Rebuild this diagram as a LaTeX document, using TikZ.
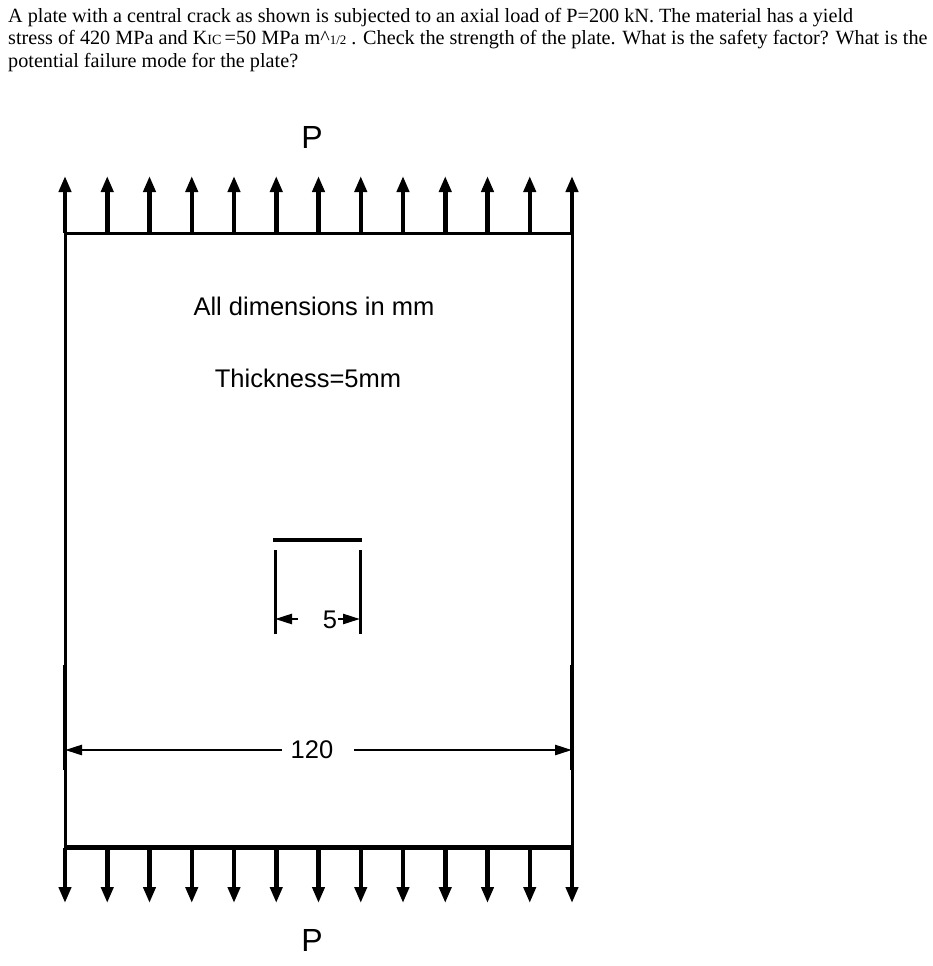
\documentclass[tikz,border=0pt]{standalone}
\usepackage{fontspec}
\setmainfont{Liberation Serif}
\newfontfamily\arial{Liberation Sans}
\usetikzlibrary{arrows.meta}
\begin{document}
\begin{tikzpicture}[x=1pt,y=-1pt,
  hdr/.style={anchor=base west,inner sep=0,font=\fontsize{20.2}{24}\selectfont},
  lbl/.style={inner sep=1pt,font=\arial\fontsize{25.5}{30}\selectfont},
  pl/.style={inner sep=0,font=\arial\fontsize{32}{36}\selectfont},
  load/.style={line width=4.5pt,-{Triangle[length=16pt,width=12pt]}},
  thk/.style={line width=3pt},
  dimarr/.style={line width=2.5pt,-{Triangle[length=17pt,width=10pt]}}]
\useasboundingbox (0,0) rectangle (932,966);
\node[hdr] (h1) at (8,23) {A plate with a central crack as shown is subjected to an axial load of P=200 kN. The material has a yield};
\node[hdr] (h2) at (8,45) {stress of 420 MPa and K{\fontsize{14}{16}\selectfont IC}\,=50 MPa m\^{}{\fontsize{13}{15}\selectfont 1/2} . Check the strength of the plate. What is the safety factor? What is the};
\node[hdr] (h3) at (8,67) {potential failure mode for the plate?};
\node[pl] (ptop) at (312,137) {P};
\node[pl] (pbot) at (312,940) {P};
\draw[thk] (65,233) rectangle (572,846);
\draw[thk] (65,848) -- (572,848);
\foreach \i in {0,...,12}{
  \pgfmathsetmacro\xx{65+\i*42.25}
  \draw[load] (\xx,233) -- (\xx,176);
  \draw[load] (\xx,848) -- (\xx,903);
}
\node[lbl] (dims) at (314,306) {All dimensions in mm};
\node[lbl] (thick) at (308,378) {Thickness=5mm};
\draw[line width=4.5pt] (273,540) -- (362,540);
\draw[thk] (275,550) -- (275,634);
\draw[thk] (360,550) -- (360,634);
\node[lbl] (five) at (330,620) {5};
\coordinate (fl) at (275,619); \coordinate (fr) at (360,619);
\draw[dimarr] (298,619) -- (fl);
\draw[dimarr] (338,619) -- (fr);
\draw[line width=3.5pt] (65,665) -- (65,770);
\draw[line width=3.5pt] (572,665) -- (572,770);
\node[lbl] (w) at (312,750) {120};
\coordinate (wl) at (65,750); \coordinate (wr) at (572,750);
\draw[dimarr] (w.west) ++(-8,0) -- (wl);
\draw[dimarr] (w.east) ++(20,0) -- (wr);
\end{tikzpicture}
\end{document}
